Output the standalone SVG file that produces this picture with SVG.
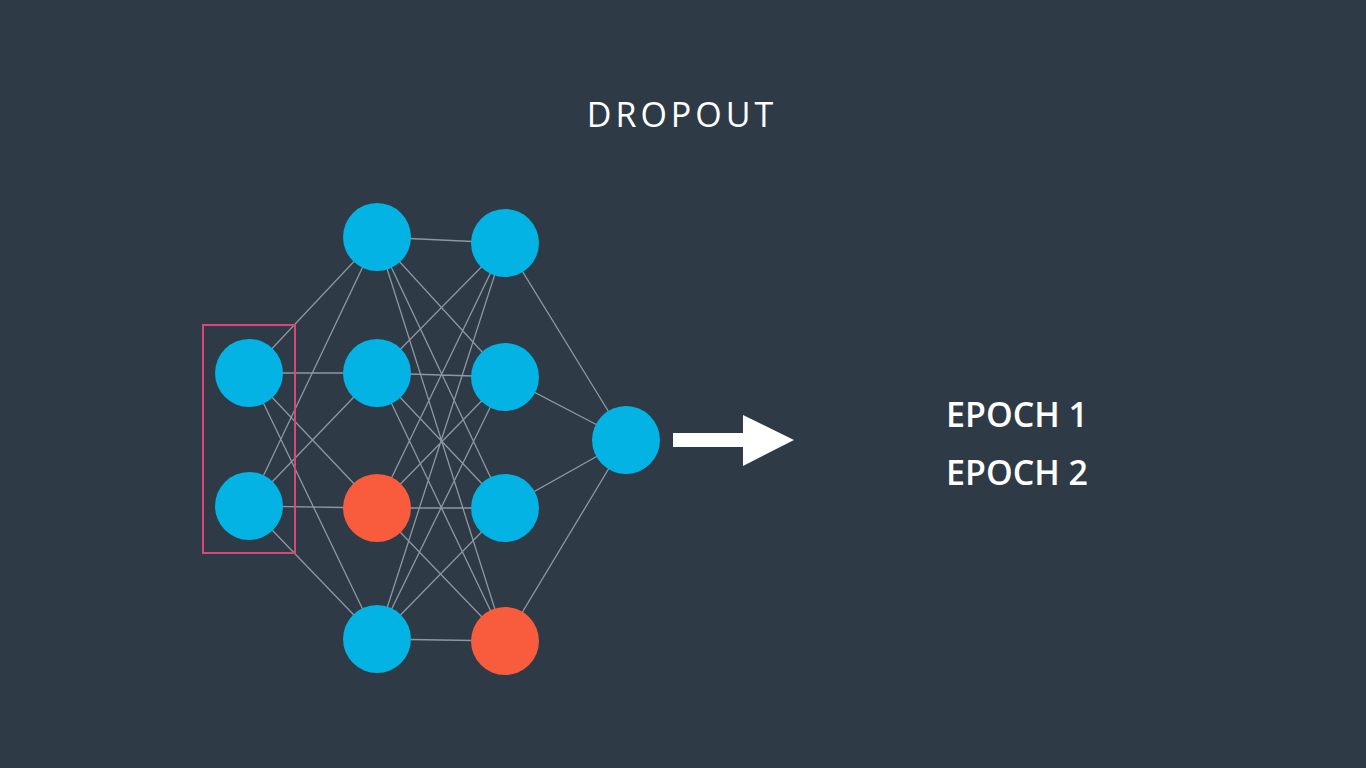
<svg xmlns="http://www.w3.org/2000/svg" width="1366" height="768" viewBox="0 0 1366 768">
<style>
.e{stroke:#8d98a3;stroke-width:1.3;fill:none}
.b{fill:#02b3e4}.o{fill:#f95c3c}
.t{font-family:"Open Sans",sans-serif;fill:#fff}
</style>
<rect width="1366" height="768" fill="#2e3a46"/>
<text class="t" x="682" y="127" font-size="34" text-anchor="middle" letter-spacing="4">DROPOUT</text>
<g id="connectors" class="e">
<path d="M249,373L377,237M249,373L377,373M249,373L377,508M249,373L377,639M249,506L377,237M249,506L377,373M249,506L377,508M249,506L377,639"/>
<path d="M377,237L505,243M377,237L505,377M377,237L505,508M377,237L505,641M377,373L505,243M377,373L505,377M377,373L505,508M377,373L505,641M377,508L505,243M377,508L505,377M377,508L505,508M377,508L505,641M377,639L505,243M377,639L505,377M377,639L505,508M377,639L505,641"/>
<path d="M505,243L626,440M505,377L626,440M505,508L626,440M505,641L626,440"/>
</g>
<rect id="box" x="203" y="325" width="92" height="228" fill="none" stroke="#d9467a" stroke-width="2"/>
<g id="in1"><circle class="b" cx="249" cy="373" r="34"/></g>
<g id="in2"><circle class="b" cx="249" cy="506" r="34"/></g>
<g id="h1a"><circle class="b" cx="377" cy="237" r="34"/></g>
<g id="h1b"><circle class="b" cx="377" cy="373" r="34"/></g>
<g id="h1c"><circle class="o" cx="377" cy="508" r="34"/></g>
<g id="h1d"><circle class="b" cx="377" cy="639" r="34"/></g>
<g id="h2a"><circle class="b" cx="505" cy="243" r="34"/></g>
<g id="h2b"><circle class="b" cx="505" cy="377" r="34"/></g>
<g id="h2c"><circle class="b" cx="505" cy="508" r="34"/></g>
<g id="h2d"><circle class="o" cx="505" cy="641" r="34"/></g>
<g id="out"><circle class="b" cx="626" cy="440" r="34"/></g>
<g id="arrow" fill="#fff"><rect x="673" y="433" width="74" height="14"/><polygon points="743,415 794,440 743,466"/></g>
<text class="t" x="946" y="427" font-size="34" font-weight="600">EPOCH 1</text>
<text class="t" x="946" y="485" font-size="34" font-weight="600">EPOCH 2</text>
</svg>
